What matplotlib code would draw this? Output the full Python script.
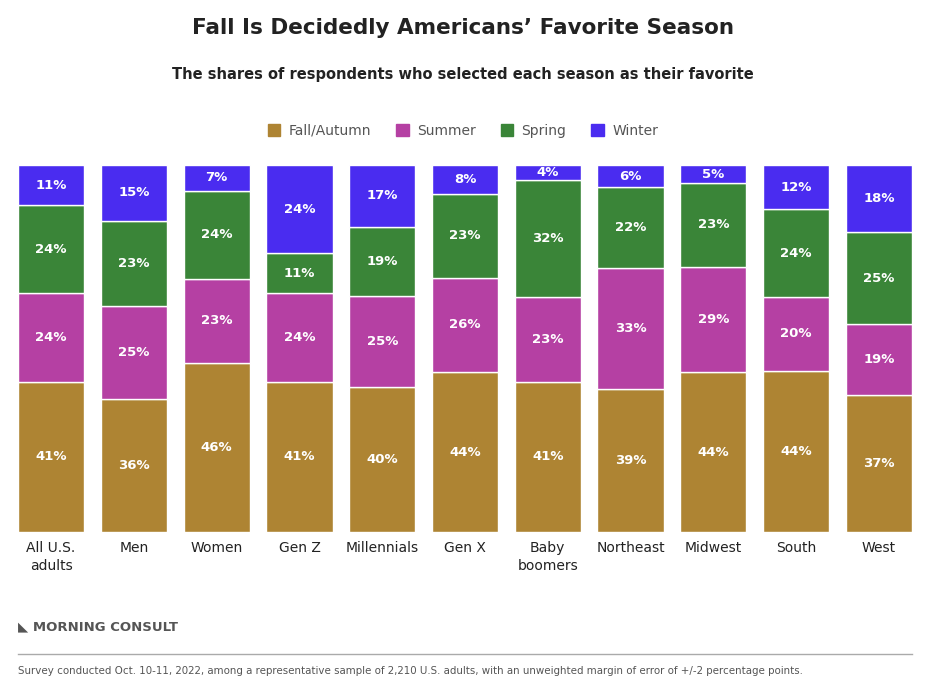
import matplotlib.pyplot as plt
import numpy as np
from matplotlib.patches import Rectangle
from matplotlib.lines import Line2D

categories = ["All U.S.\nadults", "Men", "Women", "Gen Z", "Millennials", "Gen X",
              "Baby\nboomers", "Northeast", "Midwest", "South", "West"]
fall = [41, 36, 46, 41, 40, 44, 41, 39, 44, 44, 37]
summer = [24, 25, 23, 24, 25, 26, 23, 33, 29, 20, 19]
spring = [24, 23, 24, 11, 19, 23, 32, 22, 23, 24, 25]
winter = [11, 15, 7, 24, 17, 8, 4, 6, 5, 12, 18]
series = [("Fall/Autumn", fall, "#AE8433"), ("Summer", summer, "#B540A3"),
          ("Spring", spring, "#3A8538"), ("Winter", winter, "#4A2CF0")]

W, H = 926, 694
fig = plt.figure(figsize=(W/100, H/100), dpi=100)
ax = fig.add_axes([18/W, 1-532/H, (912-18)/W, (532-165)/H])
x = np.arange(len(categories))
totals = np.sum([s[1] for s in series], axis=0)
bottom = np.zeros(len(categories))
for name, vals, col in series:
    v = np.array(vals)/totals*100
    ax.bar(x, v, bottom=bottom, width=0.8, color=col, edgecolor="white", linewidth=1)
    for xi, b, vi, lab in zip(x, bottom, v, vals):
        ax.text(xi, b+vi/2, f"{lab}%", ha="center", va="center", color="white",
                fontsize=9.5, fontweight="bold")
    bottom += v
ax.set_xlim(-0.4, len(categories)-0.6)
ax.set_ylim(0, 100)
ax.axis("off")
for xi, c in zip(x, categories):
    ax.text(xi, -2.5, c, ha="center", va="top", fontsize=10, color="#222222", linespacing=1.35)

fig.text(0.5, 1-28/H, "Fall Is Decidedly Americans’ Favorite Season", ha="center", va="center",
         fontsize=15.5, fontweight="bold", color="#222222")
fig.text(0.5, 1-74/H, "The shares of respondents who selected each season as their favorite",
         ha="center", va="center", fontsize=10.5, fontweight="bold", color="#222222")
handles = [Rectangle((0, 0), 1, 1, color=c) for _, _, c in series]
fig.legend(handles, [n for n, _, _ in series], loc="center", bbox_to_anchor=(0.5, 1-131/H),
           ncol=4, frameon=False, fontsize=10, handlelength=0.9, handleheight=0.9,
           columnspacing=1.8, handletextpad=0.6, labelcolor="#555555")
fig.text(18/W, 1-627/H, "◣ MORNING CONSULT", ha="left", va="center", fontsize=9.5,
         fontweight="bold", color="#555555")
fig.add_artist(Line2D([18/W, 912/W], [1-654/H, 1-654/H], color="#AAAAAA", lw=1))
fig.text(18/W, 1-671/H, "Survey conducted Oct. 10-11, 2022, among a representative sample of 2,210 U.S. adults, with an unweighted margin of error of +/-2 percentage points.",
         ha="left", va="center", fontsize=7.4, color="#555555")
fig.savefig("out.png", dpi=100, facecolor="white")
